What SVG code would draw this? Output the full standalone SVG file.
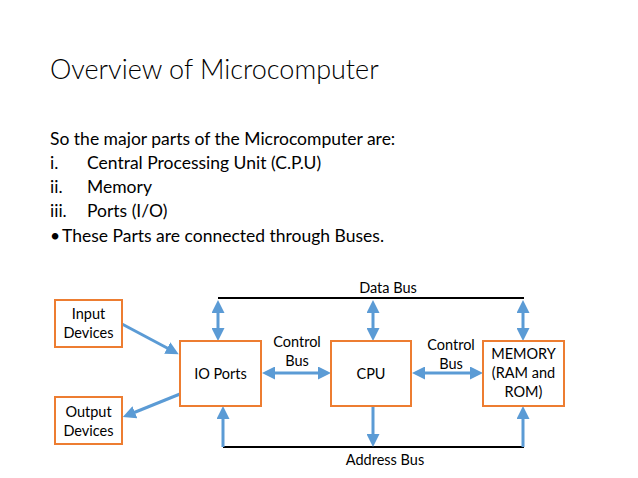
<svg xmlns="http://www.w3.org/2000/svg" width="638" height="478" viewBox="0 0 638 478">
<style>
text{font-family:"Lato","Open Sans","Liberation Sans",sans-serif;fill:#000}
.title{font-size:27px;font-weight:300}
.body{font-size:17.5px}
.lbl{font-size:14.5px;text-anchor:middle}
.box{fill:#fff;stroke:#ED7D31;stroke-width:2}
.bus{stroke:#000;stroke-width:2;fill:none}
.arr{stroke:#5B9BD5;stroke-width:3;fill:none}
</style>
<defs>
<marker id="ah" markerUnits="userSpaceOnUse" markerWidth="13" markerHeight="13" viewBox="0 0 13 13" refX="2" refY="6.5" orient="auto-start-reverse">
<path d="M0,0 L13,6.5 L0,13 z" fill="#5B9BD5"/>
</marker>
</defs>
<rect width="638" height="478" fill="#fff"/>
<text class="title" x="50" y="79">Overview of Microcomputer</text>
<g class="bodytext">
<text class="body" x="50" y="145">So the major parts of the Microcomputer are:</text>
<text class="body" x="50" y="169">i.</text><text class="body" x="87" y="169">Central Processing Unit (C.P.U)</text>
<text class="body" x="50" y="193">ii.</text><text class="body" x="87" y="193">Memory</text>
<text class="body" x="50" y="217">iii.</text><text class="body" x="87" y="217">Ports (I/O)</text>
<text class="body" x="50" y="242">•</text><text class="body" x="62" y="242">These Parts are connected through Buses.</text>
</g>
<g id="connectors">
<line class="bus" x1="218" y1="298" x2="524" y2="298"/>
<line class="bus" x1="223" y1="447" x2="524" y2="447"/>
<line class="arr" x1="218" y1="311" x2="218" y2="330" marker-start="url(#ah)" marker-end="url(#ah)"/>
<line class="arr" x1="373" y1="311" x2="373" y2="330" marker-start="url(#ah)" marker-end="url(#ah)"/>
<line class="arr" x1="523" y1="311" x2="523" y2="330" marker-start="url(#ah)" marker-end="url(#ah)"/>
<line class="arr" x1="223" y1="447" x2="223" y2="417" marker-end="url(#ah)"/>
<line class="arr" x1="373" y1="406" x2="373" y2="436" marker-end="url(#ah)"/>
<line class="arr" x1="523" y1="447" x2="523" y2="417" marker-end="url(#ah)"/>
<line class="arr" x1="273" y1="373" x2="320" y2="373" marker-start="url(#ah)" marker-end="url(#ah)"/>
<line class="arr" x1="423" y1="373" x2="472" y2="373" marker-start="url(#ah)" marker-end="url(#ah)"/>
<line class="arr" x1="122" y1="324" x2="169" y2="349" marker-end="url(#ah)"/>
<line class="arr" x1="180" y1="394" x2="133" y2="413" marker-end="url(#ah)"/>
<text class="lbl" x="388" y="293">Data Bus</text>
<text class="lbl" x="385" y="465">Address Bus</text>
<text class="lbl" x="297" y="347">Control</text>
<text class="lbl" x="297" y="366">Bus</text>
<text class="lbl" x="451" y="350">Control</text>
<text class="lbl" x="451" y="369">Bus</text>
</g>
<g id="input">
<rect class="box" x="55" y="300" width="67" height="47"/>
<text class="lbl" x="88.5" y="319">Input</text>
<text class="lbl" x="88.5" y="338">Devices</text>
</g>
<g id="output">
<rect class="box" x="55" y="397" width="67" height="47"/>
<text class="lbl" x="88.5" y="417">Output</text>
<text class="lbl" x="88.5" y="436">Devices</text>
</g>
<g id="io">
<rect class="box" x="180" y="341" width="81" height="65"/>
<text class="lbl" x="220.5" y="379">IO Ports</text>
</g>
<g id="cpu">
<rect class="box" x="331" y="341" width="80" height="65"/>
<text class="lbl" x="371" y="379">CPU</text>
</g>
<g id="memory">
<rect class="box" x="483" y="341" width="81" height="65"/>
<text class="lbl" x="523.5" y="359">MEMORY</text>
<text class="lbl" x="523.5" y="378">(RAM and</text>
<text class="lbl" x="523.5" y="397">ROM)</text>
</g>
</svg>
